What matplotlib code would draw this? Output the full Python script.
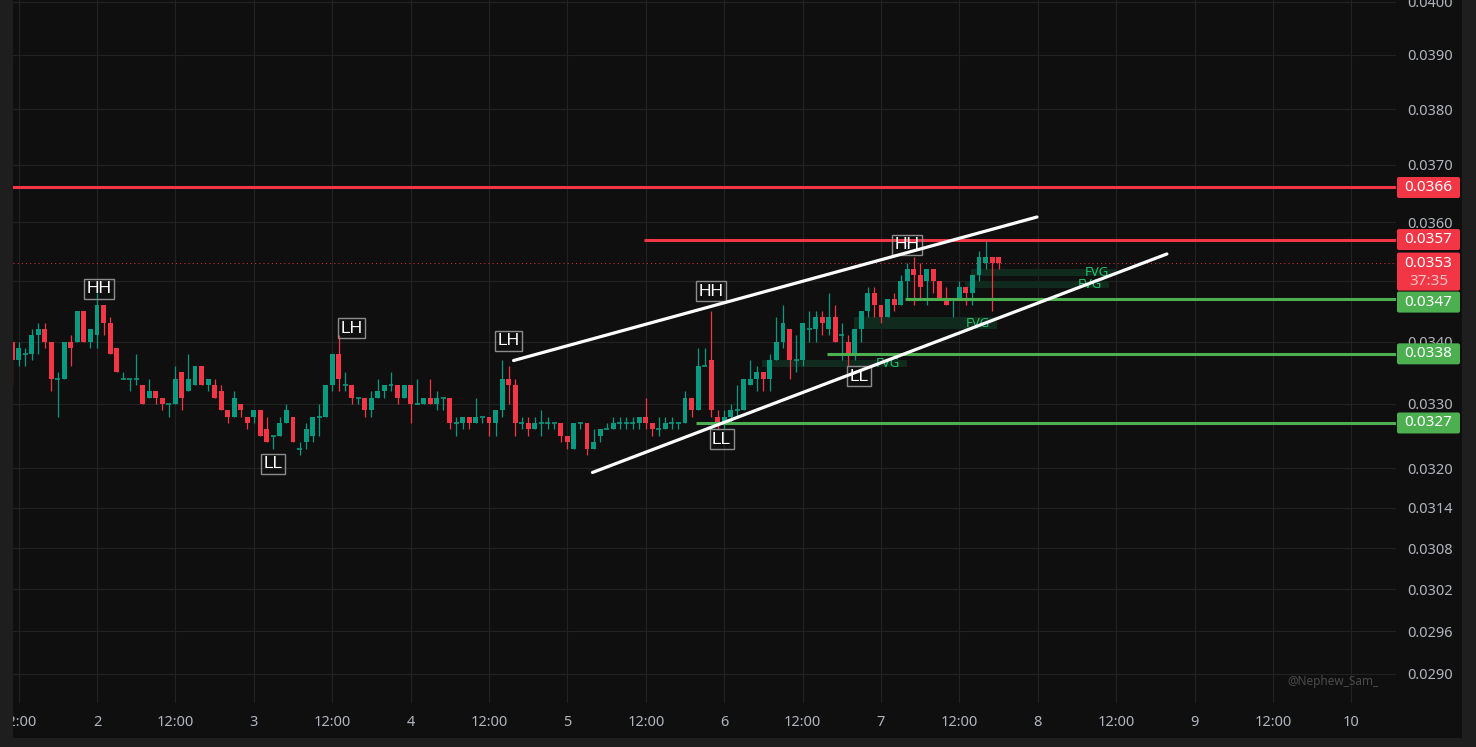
import matplotlib
matplotlib.use('Agg')
import matplotlib.pyplot as plt
import matplotlib.transforms as mtransforms
from matplotlib.patches import Rectangle, FancyBboxPatch
from matplotlib.ticker import FixedLocator, NullLocator, NullFormatter
import numpy as np

# hourly candles, hour 0 = day 2 00:00
hours = np.arange(-13, 139)
opens = np.array([
    .0340, .0337, .0338, .0338, .0341, .0342, .0340, .0334, .0334, .0340,
    .0340, .0345, .0340, .0341, .0346, .0343, .0339, .0334, .0334, .0334,
    .0333, .0331, .0332, .0331, .0330, .0330, .0335, .0332, .0333, .0336,
    .0333, .0333, .0332, .0329, .0328, .0330, .0328, .0328, .0329, .0326,
    .0325, .0325, .0327, .0328, .0323, .0324, .0325, .0328, .0328, .0333,
    .0338, .0333, .0333, .0331, .0331, .0329, .0331, .0332, .0333, .0333,
    .0331, .0333, .0330, .0330, .0331, .0330, .0331, .0331, .0327, .0327,
    .0328, .0327, .0328, .0328, .0327, .0329, .0334, .0333, .0327, .0327,
    .0326, .0327, .0327, .0327, .0327, .0325, .0323, .0327, .0327, .0323,
    .0325, .0326, .0326, .0327, .0327, .0327, .0327, .0328, .0327, .0326,
    .0326, .0327, .0327, .0327, .0331, .0329, .0336, .0337, .0328, .0327,
    .0328, .0329, .0329, .0333, .0334, .0335, .0334, .0337, .0340, .0342,
    .0337, .0337, .0342, .0342, .0344, .0342, .0344, .0341, .0340, .0338,
    .0342, .0345, .0348, .0346, .0344, .0347, .0346, .0350, .0352, .0351,
    .0350, .0352, .0350, .0347, .0347, .0347, .0349, .0348, .0351, .0353,
    .0354, .0354])
highs = np.array([
    .0340, .0340, .0339, .0342, .0343, .0343, .0340, .0335, .0340, .0341,
    .0345, .0345, .0342, .0348, .0346, .0344, .0339, .0335, .0334, .0338,
    .0333, .0334, .0332, .0331, .0330, .0336, .0335, .0338, .0336, .0336,
    .0334, .0334, .0333, .0329, .0332, .0330, .0328, .0329, .0329, .0328,
    .0325, .0328, .0330, .0328, .0324, .0327, .0328, .0330, .0333, .0338,
    .0341, .0335, .0333, .0331, .0331, .0332, .0334, .0333, .0335, .0333,
    .0333, .0333, .0334, .0331, .0334, .0332, .0331, .0331, .0328, .0328,
    .0328, .0331, .0328, .0328, .0329, .0337, .0336, .0334, .0328, .0328,
    .0328, .0329, .0328, .0327, .0327, .0325, .0327, .0327, .0327, .0326,
    .0326, .0327, .0328, .0328, .0328, .0328, .0328, .0331, .0327, .0328,
    .0328, .0328, .0327, .0332, .0331, .0339, .0339, .0345, .0329, .0329,
    .0330, .0333, .0334, .0337, .0336, .0335, .0338, .0344, .0346, .0342,
    .0341, .0343, .0345, .0345, .0345, .0348, .0346, .0343, .0341, .0342,
    .0345, .0349, .0349, .0346, .0347, .0348, .0351, .0353, .0354, .0353,
    .0352, .0352, .0350, .0349, .0347, .0350, .0349, .0351, .0355, .0357,
    .0354, .0354])
lows = np.array([
    .0333, .0336, .0336, .0337, .0338, .0339, .0332, .0328, .0334, .0336,
    .0340, .0340, .0339, .0339, .0341, .0338, .0335, .0334, .0332, .0333,
    .0330, .0331, .0330, .0329, .0328, .0330, .0329, .0332, .0333, .0333,
    .0332, .0331, .0329, .0327, .0328, .0328, .0326, .0327, .0325, .0324,
    .0323, .0325, .0327, .0324, .0322, .0323, .0324, .0325, .0328, .0332,
    .0332, .0332, .0330, .0330, .0328, .0328, .0331, .0331, .0332, .0330,
    .0331, .0327, .0330, .0330, .0330, .0329, .0329, .0326, .0325, .0326,
    .0326, .0327, .0327, .0325, .0325, .0328, .0330, .0325, .0326, .0325,
    .0326, .0325, .0326, .0326, .0324, .0323, .0323, .0326, .0322, .0323,
    .0324, .0326, .0326, .0326, .0326, .0326, .0326, .0326, .0325, .0325,
    .0326, .0326, .0326, .0327, .0328, .0329, .0336, .0328, .0326, .0326,
    .0327, .0328, .0329, .0333, .0332, .0332, .0332, .0337, .0339, .0334,
    .0335, .0336, .0340, .0340, .0341, .0341, .0340, .0337, .0336, .0337,
    .0340, .0344, .0344, .0343, .0344, .0345, .0346, .0347, .0346, .0347,
    .0346, .0348, .0347, .0346, .0344, .0347, .0346, .0346, .0350, .0352,
    .0345, .0352])
closes = np.array([
    .0337, .0339, .0338, .0341, .0342, .0340, .0334, .0334, .0340, .0339,
    .0345, .0340, .0342, .0346, .0343, .0338, .0335, .0334, .0334, .0334,
    .0330, .0332, .0331, .0330, .0330, .0334, .0331, .0334, .0336, .0333,
    .0334, .0331, .0329, .0328, .0331, .0329, .0327, .0329, .0325, .0324,
    .0325, .0327, .0329, .0324, .0323, .0326, .0328, .0328, .0333, .0338,
    .0334, .0333, .0331, .0331, .0329, .0331, .0332, .0333, .0333, .0331,
    .0333, .0330, .0330, .0331, .0330, .0331, .0331, .0327, .0327, .0328,
    .0327, .0328, .0328, .0327, .0329, .0334, .0333, .0327, .0327, .0326,
    .0327, .0327, .0327, .0327, .0325, .0324, .0327, .0327, .0323, .0324,
    .0326, .0326, .0327, .0327, .0327, .0327, .0328, .0327, .0326, .0326,
    .0327, .0327, .0327, .0331, .0329, .0336, .0336, .0329, .0327, .0328,
    .0329, .0329, .0334, .0334, .0335, .0334, .0337, .0340, .0343, .0337,
    .0337, .0343, .0342, .0344, .0343, .0344, .0340, .0341, .0338, .0342,
    .0345, .0348, .0346, .0344, .0347, .0346, .0350, .0352, .0351, .0349,
    .0352, .0350, .0347, .0346, .0347, .0349, .0348, .0351, .0354, .0354,
    .0353, .0353])

xtick_hours = list(range(-12, 193, 12))
xtick_labels = ['12:00', '2', '12:00', '3', '12:00', '4', '12:00', '5', '12:00',
                '6', '12:00', '7', '12:00', '8', '12:00', '9', '12:00', '10']
bold_days = ['3', '10']

ytick_vals = [0.0400, 0.0390, 0.0380, 0.0370, 0.0360, 0.0350, 0.0340, 0.0330,
              0.0320, 0.0314, 0.0308, 0.0302, 0.0296, 0.0290]
# 0.0350 sits under the last-price tag, so its label is not shown
ytick_labels = ['' if v == 0.0350 else '%.4f' % v for v in ytick_vals]

# horizontal levels (price, start hour)
level_prices = [0.0366, 0.0357, 0.0347, 0.0338, 0.0327]
level_starts = [-13, 83.8, 123.7, 111.8, 91.7]
level_kind = ['res', 'res', 'sup', 'sup', 'sup']

# channel lines
upper_t = [63.76, 143.88]
upper_p = [0.033692, 0.036087]
lower_t = [75.84, 163.76]
lower_p = [0.031935, 0.035454]

# fair value gaps
fvg_start = [101.8, 115.9, 133.8, 132.9]
fvg_end = [124.0, 137.8, 156.0, 154.9]
fvg_low = [0.03359, 0.03420, 0.03509, 0.03489]
fvg_high = [0.03370, 0.03440, 0.03520, 0.03500]

# market structure labels
struct_text = ['HH', 'LL', 'LH', 'LH', 'HH', 'LL', 'LL', 'HH']
struct_t = [0.3, 26.9, 39.0, 63.0, 94.0, 95.6, 116.7, 124.0]
struct_p = [0.03487, 0.03207, 0.03422, 0.03401, 0.03483, 0.03245, 0.03344, 0.03561]

last_price = 0.0353
countdown = '37:35'

UP = '#089981'
DOWN = '#f23645'
SUP = '#4caf50'
BG = '#0f0f0f'
TXT = '#b2b5be'
GRID = '#222222'

W, H = 1476, 747
fig = plt.figure(figsize=(W / 100, H / 100), dpi=100, facecolor='#1e1e1e')

bg = fig.add_axes([13 / W, 9 / H, 1449 / W, 738 / H])
bg.set_facecolor(BG)
bg.set_xticks([])
bg.set_yticks([])
for s in bg.spines.values():
    s.set_visible(False)
bg.set_xlim(0, 1)
bg.set_ylim(0, 1)

ax = fig.add_axes([13 / W, 44 / H, 1383 / W, 703 / H])
ax.set_facecolor('none')
for s in ax.spines.values():
    s.set_visible(False)
ax.set_yscale('log')

# candles
up = closes >= opens
colors = np.where(up, UP, DOWN)
ax.vlines(hours, np.minimum(lows, np.minimum(opens, closes)),
          np.maximum(highs, np.maximum(opens, closes)),
          colors=colors, lw=0.9, zorder=3)
body_lo = np.minimum(opens, closes)
body_h = np.abs(closes - opens)
has_body = body_h > 1e-7
ax.bar(hours[has_body], body_h[has_body], bottom=body_lo[has_body], width=0.76,
       color=colors[has_body], linewidth=0, zorder=4)
ax.hlines(closes[~has_body], hours[~has_body] - 0.38, hours[~has_body] + 0.38,
          colors=colors[~has_body], lw=1.2, zorder=4)

# fvg boxes
for t0, t1, lo, hi in zip(fvg_start, fvg_end, fvg_low, fvg_high):
    ax.add_patch(Rectangle((t0, lo), t1 - t0, hi - lo, facecolor='#102a1e',
                           edgecolor='none', zorder=2))
    ax.text(t1 - 1.1, np.sqrt(lo * hi), 'FVG', color='#1cc46a', fontsize=9.5,
            family='Noto Sans', ha='right', va='center', zorder=2.5)

# levels
for p, t0, k in zip(level_prices, level_starts, level_kind):
    ax.hlines(p, t0, 220, colors=DOWN if k == 'res' else SUP, lw=2.2, zorder=5)
ax.axhline(last_price, color=DOWN, lw=0.75, ls=(0, (1, 3)), alpha=0.85, zorder=2)

# channel
ax.plot(upper_t, upper_p, color='white', lw=2.3, solid_capstyle='round', zorder=6)
ax.plot(lower_t, lower_p, color='white', lw=2.3, solid_capstyle='round', zorder=6)

for s, t, p in zip(struct_text, struct_t, struct_p):
    ax.text(t, p, s, color='white', fontsize=12.5, family='Liberation Sans',
            ha='center', va='center', zorder=5.5,
            bbox=dict(boxstyle='square,pad=0.14', fc='none', ec='#8c8c8c', lw=1.0))

ax.text(0.9545, 0.0299, '@Nephew_Sam_', transform=ax.transAxes, ha='center',
        va='center', color='#4a4a4a', fontsize=8.5, family='Noto Sans')

ax.set_xlim(-12.86, 198.83)
ax.set_ylim(0.02860, 0.040035)

ax.yaxis.tick_right()
ax.yaxis.set_major_locator(FixedLocator(ytick_vals))
ax.yaxis.set_minor_locator(NullLocator())
ax.yaxis.set_minor_formatter(NullFormatter())
ax.set_yticklabels(ytick_labels, family='Noto Sans')
ax.set_xticks(xtick_hours)
ax.set_xticklabels([])
ax.tick_params(axis='y', length=0, pad=8, labelcolor=TXT, labelsize=10.5)
ax.tick_params(axis='x', length=0)
ax.grid(True, color=GRID, lw=0.8, zorder=0)
ax.set_axisbelow(True)

xtrans = mtransforms.blended_transform_factory(ax.transData, bg.transAxes)
for t, s in zip(xtick_hours, xtick_labels):
    bg.text(t, 0.021, s, transform=xtrans, ha='center', va='center', color=TXT,
            fontsize=10.5, family='Noto Sans',
            fontweight='bold' if s in bold_days else 'normal', clip_on=True)

# price labels on the right scale
tags = [(0.0366, DOWN, None), (0.0357, DOWN, None), (last_price, DOWN, countdown),
        (0.0347, SUP, None), (0.0338, SUP, None), (0.0327, SUP, None)]
x0 = ax.bbox.x1 + 1
prev_bottom = 1e9
for p, c, extra in tags:
    yd = ax.transData.transform((0, p))[1]
    h = 38 if extra else 21
    top = min(yd + 10.5, prev_bottom - 1)
    bottom = top - h
    prev_bottom = bottom
    fig.add_artist(FancyBboxPatch((x0, bottom), 63, h,
                                  boxstyle='round,pad=0,rounding_size=2',
                                  fc=c, ec='none', zorder=10,
                                  transform=mtransforms.IdentityTransform()))
    fig.text(x0 + 31.5, top - 10.5, '%.4f' % p, color='white', fontsize=11,
             family='Noto Sans', ha='center', va='center', zorder=11,
             transform=mtransforms.IdentityTransform())
    if extra:
        fig.text(x0 + 31.5, top - 28.5, extra, color='#ffc2c8', fontsize=11,
                 family='Noto Sans', ha='center', va='center', zorder=11,
                 transform=mtransforms.IdentityTransform())

fig.savefig('out.png', dpi=100, facecolor=fig.get_facecolor())
